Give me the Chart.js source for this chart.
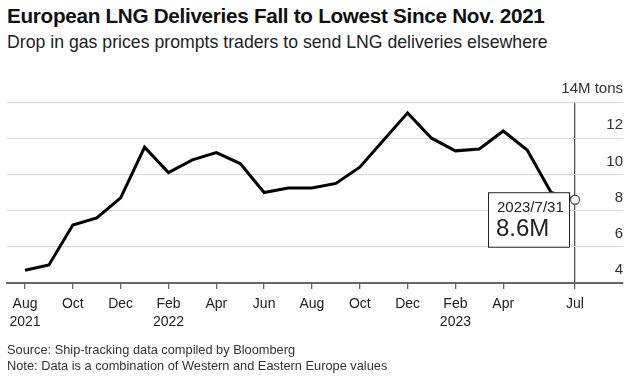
<!DOCTYPE html>
<html><head><meta charset="utf-8">
<script src="https://cdn.jsdelivr.net/npm/chart.js@4/dist/chart.umd.min.js"></script>
<style>
html,body{margin:0;padding:0;background:#fff;width:636px;height:379px;overflow:hidden;font-family:"Liberation Sans",Arial,sans-serif;}
#wrap{position:relative;width:636px;height:379px;}
#title{position:absolute;left:7px;top:4px;font-weight:bold;font-size:20.7px;color:#111;white-space:nowrap;letter-spacing:-0.3px}
#sub{position:absolute;left:7px;top:32px;font-size:17.7px;color:#222;white-space:nowrap}
#foot{position:absolute;left:7px;top:342px;font-size:12.8px;color:#333;line-height:16px;white-space:nowrap}
canvas{position:absolute;left:0;top:0}
</style></head>
<body><div id="wrap">
<div id="title">European LNG Deliveries Fall to Lowest Since Nov. 2021</div>
<div id="sub">Drop in gas prices prompts traders to send LNG deliveries elsewhere</div>
<canvas id="c" width="636" height="379"></canvas>
<div id="foot">Source: Ship-tracking data compiled by Bloomberg<br>Note: Data is a combination of Western and Eastern Europe values</div>
</div>
<script>
const months = ["2021-08","2021-09","2021-10","2021-11","2021-12","2022-01","2022-02","2022-03","2022-04","2022-05","2022-06","2022-07","2022-08","2022-09","2022-10","2022-11","2022-12","2023-01","2023-02","2023-03","2023-04","2023-05","2023-06","2023-07"];
const values = [4.7,5.0,7.2,7.6,8.7,11.5,10.1,10.8,11.2,10.6,9.0,9.25,9.25,9.5,10.4,11.9,13.4,12.0,11.3,11.4,12.4,11.35,9.0,8.6];
const tickIndex = [0,2,4,6,8,10,12,14,16,18,20,23];
const tickLabels = [["Aug","2021"],"Oct","Dec",["Feb","2022"],"Apr","Jun","Aug","Oct","Dec",["Feb","2023"],"Apr","Jul"];
const yTicks = [4,6,8,10,12,14];
const yUnit = "M tons";
const latestDate = "2023/7/31";
const latestLabel = "8.6M";

Chart.defaults.font.family = "'Liberation Sans', Arial, sans-serif";
Chart.defaults.color = "#333";

const calloutPlugin = {
  id: 'callout',
  afterDatasetsDraw(chart) {
    const meta = chart.getDatasetMeta(0);
    const pt = meta.data[meta.data.length - 1];
    const ctx = chart.ctx;
    const px = pt.x, py = pt.y;
    const l = px - 87, r = px - 5, t = py - 7.5, b = py + 48;
    ctx.save();
    ctx.fillStyle = '#fff';
    ctx.fillRect(l, t, r - l, b - t);
    ctx.strokeStyle = '#222';
    ctx.lineWidth = 1;
    ctx.strokeRect(l + 0.5, t + 0.5, r - l - 1, b - t - 1);
    ctx.fillStyle = '#222';
    ctx.textBaseline = 'middle';
    ctx.textAlign = 'left';
    ctx.font = "15px 'Liberation Sans', Arial, sans-serif";
    ctx.fillText(latestDate, l + 9, t + 16);
    ctx.font = "24px 'Liberation Sans', Arial, sans-serif";
    ctx.fillText(latestLabel, l + 8, t + 37);
    ctx.restore();
  }
};

new Chart(document.getElementById('c'), {
  type: 'line',
  data: {
    datasets: [{
      data: values.map((v, i) => ({x: i, y: v})),
      borderColor: '#000',
      borderWidth: 3,
      tension: 0,
      fill: false,
      pointRadius: ctx => ctx.dataIndex === values.length - 1 ? 4.5 : 0,
      pointBackgroundColor: '#fff',
      pointBorderColor: '#555',
      pointBorderWidth: 1.3,
      clip: false
    }]
  },
  options: {
    responsive: false,
    animation: false,
    devicePixelRatio: 1,
    layout: {padding: {left: 7, right: 13, top: 102, bottom: 45}},
    plugins: {legend: {display: false}, tooltip: {enabled: false}},
    scales: {
      x: {
        type: 'linear',
        min: -0.7527,
        max: 25.0073,
        bounds: 'data',
        afterBuildTicks: s => { s.ticks = tickIndex.map(v => ({value: v})); },
        afterFit: s => { s.height = 51; },
        ticks: {
          autoSkip: false, maxRotation: 0, padding: 6,
          font: {size: 14, lineHeight: 1.3},
          color: '#222',
          callback: v => tickLabels[tickIndex.indexOf(v)]
        },
        grid: {
          drawOnChartArea: true,
          color: ctx => (ctx.tick && ctx.tick.value === 23) ? '#555' : 'rgba(0,0,0,0)',
          lineWidth: 1.3,
          tickColor: '#666',
          tickWidth: 1.3,
          tickLength: 6
        },
        border: {display: true, color: '#666', width: 2}
      },
      y: {
        type: 'linear',
        position: 'right',
        min: 4, max: 14,
        afterBuildTicks: s => { s.ticks = yTicks.map(v => ({value: v})); },
        afterFit: s => { s.width = 0; },
        ticks: {
          mirror: true, padding: 0, labelOffset: -13,
          font: {size: 15},
          color: '#333',
          callback: v => v === yTicks[yTicks.length - 1] ? v + yUnit : String(v)
        },
        grid: {
          drawTicks: false,
          color: ctx => (ctx.tick && ctx.tick.value === 4) ? 'rgba(0,0,0,0)' : '#d9d9d9',
          lineWidth: 1
        },
        border: {display: false}
      }
    }
  },
  plugins: [calloutPlugin]
});
</script>
</body></html>
